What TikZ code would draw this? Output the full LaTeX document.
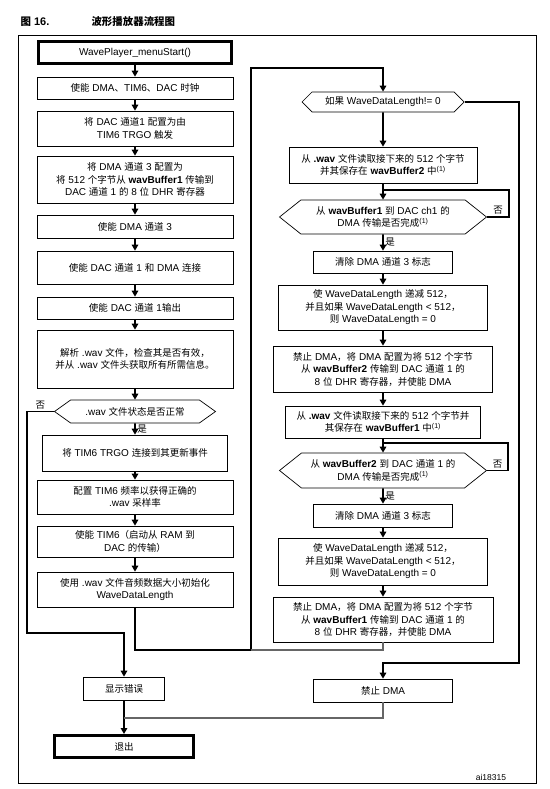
\documentclass[tikz,border=0pt]{standalone}
\usepackage{fontspec}
\setmainfont{Liberation Sans}
\newfontfamily\zhfont{Noto Sans CJK SC}[Scale=0.95]
\usetikzlibrary{arrows.meta, shapes.symbols}

% switch to the CJK family for Chinese characters
\XeTeXinterchartokenstate=1
\newXeTeXintercharclass\zhclass
\newcount\zhcode
\zhcode="3000
\loop
  \XeTeXcharclass\zhcode=\zhclass
  \ifnum\zhcode<"9FFF \advance\zhcode by 1
\repeat
\zhcode="FF00
\loop
  \XeTeXcharclass\zhcode=\zhclass
  \ifnum\zhcode<"FFEF \advance\zhcode by 1
\repeat
\XeTeXinterchartoks 0 \zhclass = {\zhfont}
\XeTeXinterchartoks 4095 \zhclass = {\zhfont}
\XeTeXinterchartoks \zhclass 0 = {\rmfamily}
\XeTeXinterchartoks \zhclass 4095 = {\rmfamily}

\begin{document}
\begin{tikzpicture}[
  x=1pt, y=-1pt,
  font=\fontsize{10}{12.5}\selectfont,
  proc/.style={draw, line width=0.7pt, align=center, inner sep=1pt},
  term/.style={proc, line width=3pt},
  dec/.style={draw, line width=0.7pt, shape=signal, signal to=west and east,
              align=center, inner sep=1pt},
  flow/.style={line width=1.6pt, -{Triangle[length=6pt, width=6.5pt]}},
  back/.style={line width=1.6pt},
  merge/.style={line width=1.4pt, black!60},
  lbl/.style={inner sep=1.5pt}
]
  \useasboundingbox (0,0) rectangle (549,789);

  \node[font=\fontsize{11}{13}\selectfont\bfseries, anchor=west] (fig) at (17,22) {图 16.};
  \node[font=\fontsize{11}{13}\selectfont\bfseries, anchor=west] (title) at (88,22) {波形播放器流程图};
  \draw[line width=0.8pt] (18,35) rectangle (536,783);

  % left column
  \node[term, minimum width=193pt, minimum height=22pt] (start) at (135,52.5)
    {WavePlayer\_menuStart()};
  \node[proc, minimum width=196pt, minimum height=22pt] (clk) at (135,88)
    {使能 DMA、TIM6、DAC 时钟};
  \node[proc, minimum width=196pt, minimum height=35pt] (trig) at (135,128.5)
    {将 DAC 通道1 配置为由\\TIM6 TRGO 触发};
  \node[proc, minimum width=196pt, minimum height=47pt] (dmacfg) at (135,179.5)
    {将 DMA 通道 3 配置为\\将 512 个字节从 \textbf{wavBuffer1} 传输到\\DAC 通道 1 的 8 位 DHR 寄存器};
  \node[proc, minimum width=196pt, minimum height=23pt] (dmaen) at (135,226.5)
    {使能 DMA 通道 3};
  \node[proc, minimum width=196pt, minimum height=33pt] (dacdma) at (135,267.5)
    {使能 DAC 通道 1 和 DMA 连接};
  \node[proc, minimum width=196pt, minimum height=22pt] (dacout) at (135,308)
    {使能 DAC 通道 1输出};
  \node[proc, minimum width=196pt, minimum height=58pt] (parse) at (135,359)
    {解析 .wav 文件，检查其是否有效，\\并从 .wav 文件头获取所有所需信息。};
  \node[dec, minimum width=161pt, minimum height=23pt, signal pointer angle=71] (wavok) at (135,411.5)
    {.wav 文件状态是否正常};
  \node[proc, minimum width=185pt, minimum height=36pt] (trgo) at (135,453)
    {将 TIM6 TRGO 连接到其更新事件};
  \node[proc, minimum width=196pt, minimum height=34pt] (freq) at (135,497)
    {配置 TIM6 频率以获得正确的\\.wav 采样率};
  \node[proc, minimum width=196pt, minimum height=31pt] (tim) at (135,541.5)
    {使能 TIM6（启动从 RAM 到\\DAC 的传输）};
  \node[proc, minimum width=196pt, minimum height=35pt] (init) at (135,589.5)
    {使用 .wav 文件音频数据大小初始化\\WaveDataLength};
  \node[proc, minimum width=81pt, minimum height=23pt] (err) at (124,688.5) {显示错误};
  \node[term, minimum width=139pt, minimum height=22pt] (quit) at (124,746.5) {退出};

  % right column
  \node[dec, minimum width=162pt, minimum height=20pt, signal pointer angle=90] (len) at (383,102)
    {如果 WaveDataLength!= 0};
  \node[proc, minimum width=188pt, minimum height=36pt] (rd2) at (383,165)
    {从 \textbf{.wav} 文件读取接下来的 512 个字节\\并其保存在 \textbf{wavBuffer2} 中\textsuperscript{(1)}};
  \node[dec, minimum width=207pt, minimum height=34pt, signal pointer angle=77] (dma1) at (383,217)
    {从 \textbf{wavBuffer1} 到 DAC ch1 的\\DMA 传输是否完成\textsuperscript{(1)}};
  \node[proc, minimum width=139pt, minimum height=22pt] (clr1) at (383,262)
    {清除 DMA 通道 3 标志};
  \node[proc, minimum width=209pt, minimum height=45pt] (dec1) at (383,307.5)
    {使 WaveDataLength 递减 512，\\并且如果 WaveDataLength < 512，\\则 WaveDataLength = 0};
  \node[proc, minimum width=219pt, minimum height=46pt] (cfg2) at (383,369)
    {禁止 DMA，将 DMA 配置为将 512 个字节\\从 \textbf{wavBuffer2} 传输到 DAC 通道 1 的\\8 位 DHR 寄存器，并使能 DMA};
  \node[proc, minimum width=195pt, minimum height=32pt] (rd1) at (383,422)
    {从 \textbf{.wav} 文件读取接下来的 512 个字节并\\其保存在 \textbf{wavBuffer1} 中\textsuperscript{(1)}};
  \node[dec, minimum width=207pt, minimum height=35pt, signal pointer angle=77] (dma2) at (383,470.5)
    {从 \textbf{wavBuffer2} 到 DAC 通道 1 的\\DMA 传输是否完成\textsuperscript{(1)}};
  \node[proc, minimum width=139pt, minimum height=23pt] (clr2) at (383,515.5)
    {清除 DMA 通道 3 标志};
  \node[proc, minimum width=209pt, minimum height=47pt] (dec2) at (383,561.5)
    {使 WaveDataLength 递减 512，\\并且如果 WaveDataLength < 512，\\则 WaveDataLength = 0};
  \node[proc, minimum width=220pt, minimum height=45pt] (cfg1) at (383,619.5)
    {禁止 DMA，将 DMA 配置为将 512 个字节\\从 \textbf{wavBuffer1} 传输到 DAC 通道 1 的\\8 位 DHR 寄存器，并使能 DMA};
  \node[proc, minimum width=139pt, minimum height=23pt] (stop) at (383,690.5) {禁止 DMA};

  \node[font=\fontsize{8.5}{10}\selectfont] (id) at (491,777) {ai18315};

  % turning points
  \coordinate (errin) at (27,633);
  \coordinate (join) at (251,650);
  \coordinate (top) at (383,68);
  \coordinate (ret1) at (509,190);
  \coordinate (ret2) at (508,443);
  \coordinate (nz) at (519,663);
  \coordinate (quitin) at (124,718);

  \draw[flow] (start) -- (clk);
  \draw[flow] (clk) -- (trig);
  \draw[flow] (trig) -- (dmacfg);
  \draw[flow] (dmacfg) -- (dmaen);
  \draw[flow] (dmaen) -- (dacdma);
  \draw[flow] (dacdma) -- (dacout);
  \draw[flow] (dacout) -- (parse);
  \draw[flow] (parse) -- (wavok);
  \draw[flow] (wavok) -- node[right, lbl]{是} (trgo);
  \draw[flow] (trgo) -- (freq);
  \draw[flow] (freq) -- (tim);
  \draw[flow] (tim) -- (init);
  \draw[flow] (wavok.west) -| node[pos=0.25, above, lbl]{否} (errin) -| (err);
  \draw[flow] (err) -- (quit);

  \draw[flow] (init) |- (join) |- (top) -- (len);
  \draw[merge] (cfg1) |- (join);
  \draw[flow] (len) -- (rd2);
  \draw[flow] (rd2) -- (dma1);
  \draw[back] (dma1.east) -| node[pos=0.25, above, lbl]{否} (ret1) -- (ret1 -| rd2.south);
  \draw[flow] (dma1) -- node[right, lbl]{是} (clr1);
  \draw[flow] (clr1) -- (dec1);
  \draw[flow] (dec1) -- (cfg2);
  \draw[flow] (cfg2) -- (rd1);
  \draw[flow] (rd1) -- (dma2);
  \draw[back] (dma2.east) -| node[pos=0.25, above, lbl]{否} (ret2) -- (ret2 -| rd1.south);
  \draw[flow] (dma2) -- node[right, lbl]{是} (clr2);
  \draw[flow] (clr2) -- (dec2);
  \draw[flow] (dec2) -- (cfg1);
  \draw[flow] (len.east) -| (nz) -| (stop);
  \draw[merge] (stop) |- (quitin);
\end{tikzpicture}
\end{document}
